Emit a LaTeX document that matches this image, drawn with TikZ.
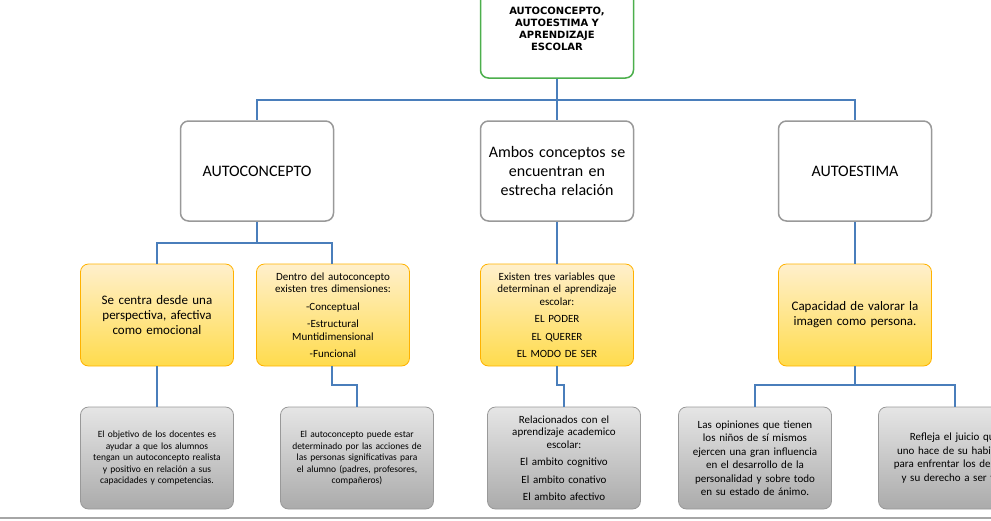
\documentclass[tikz,border=0pt]{standalone}
\usepackage{fontspec}
\setmainfont{Carlito}
\newfontfamily\titlef{DejaVu Sans}
\begin{document}
\begin{tikzpicture}[x=1pt,y=-1pt,
 white box/.style={draw=black!40,line width=1.5pt,rounded corners=8pt,fill=white,align=center,font=\fontsize{16}{19}\selectfont},
 orange box/.style={draw=orange!60!yellow,line width=0.8pt,rounded corners=8pt,top color=yellow!40!orange!20,bottom color=orange!40!yellow!70,align=center},
 gray box/.style={draw=black!40,line width=0.8pt,rounded corners=8pt,top color=black!10,bottom color=black!33,align=center,font=\fontsize{9.5}{11.5}\selectfont}]
\useasboundingbox (0,0) rectangle (991,520);
\clip (0,0) rectangle (991,520);
\definecolor{ln}{HTML}{4A7EBB}
\tikzset{line/.style={draw=ln,line width=1.6pt}}
% boxes
\node[white box,draw=green!55!black!70,minimum width=153pt,minimum height=96pt,font=\titlef\bfseries\fontsize{10}{12}\selectfont,text width=130pt] (top) at (557,30) {\\[-6pt]AUTOCONCEPTO,\\AUTOESTIMA Y\\APRENDIZAJE\\ESCOLAR\\[8pt]};
\node[white box,minimum width=153pt,minimum height=100pt] (ac) at (257,171) {AUTOCONCEPTO};
\node[white box,minimum width=153pt,minimum height=100pt,text width=140pt] (am) at (557,171) {Ambos conceptos se\\encuentran en\\estrecha relación};
\node[white box,minimum width=153pt,minimum height=100pt] (ae) at (855,171) {\raisebox{-7pt}{AUTOESTIMA}};
\node[orange box,minimum width=153pt,minimum height=102pt,font=\fontsize{13}{15}\selectfont,text width=140pt] (o1) at (157,315) {Se centra desde una\\perspectiva, afectiva\\como emocional};
\node[orange box,minimum width=153pt,minimum height=102pt,font=\fontsize{11}{12.5}\selectfont,text width=145pt] (o2) at (333,315) {Dentro del autoconcepto\\existen tres dimensiones:\\[5pt]-Conceptual\\[5pt]-Estructural\\Muntidimensional\\[5pt]-Funcional};
\node[orange box,minimum width=153pt,minimum height=102pt,font=\fontsize{11}{12.5}\selectfont,text width=145pt] (o3) at (557,315) {Existen tres variables que\\determinan el aprendizaje\\escolar:\\[5pt]EL PODER\\[5pt]EL QUERER\\[5pt]EL MODO DE SER};
\node[orange box,minimum width=153pt,minimum height=102pt,font=\fontsize{13}{15}\selectfont,text width=140pt] (o4) at (855,315) {\raisebox{7pt}{\parbox{140pt}{\centering Capacidad de valorar la\\imagen como persona.}}};
\node[gray box,minimum width=153pt,minimum height=102pt,text width=145pt] (g1) at (157,458) {El objetivo de los docentes es\\ayudar a que los alumnos\\tengan un autoconcepto realista\\y positivo en relación a sus\\capacidades y competencias.};
\node[gray box,minimum width=153pt,minimum height=102pt,text width=145pt] (g2) at (357,458) {El autoconcepto puede estar\\determinado por las acciones de\\las personas significativas para\\el alumno (padres, profesores,\\compañeros)\\[10pt]};
\node[gray box,minimum width=153pt,minimum height=102pt,text width=140pt,font=\fontsize{11}{12.5}\selectfont] (g3) at (564,458) {Relacionados con el\\aprendizaje academico\\escolar:\\[5pt]El ambito cognitivo\\[5pt]El ambito conativo\\[5pt]El ambito afectivo};
\node[gray box,minimum width=153pt,minimum height=102pt,text width=140pt,font=\fontsize{11}{13.5}\selectfont] (g4) at (755,458) {Las opiniones que tienen\\los niños de sí mismos\\ejercen una gran influencia\\en el desarrollo de la\\personalidad y sobre todo\\en su estado de ánimo.};
\node[gray box,minimum width=153pt,minimum height=102pt,text width=140pt,font=\fontsize{11}{13.5}\selectfont] (g5) at (955,458) {Refleja el juicio que\\uno hace de su habilidad\\para enfrentar los desafíos\\y su derecho a ser feliz};
% connectors
\draw[line] (top.south) -- (557,100) coordinate (h);
\draw[line] (h) -| (ac.north);
\draw[line] (h) -| (ae.north);
\draw[line] (h) -- (am.north);
\draw[line] (ac.south) -- (257,243) coordinate (a1);
\draw[line] (a1) -| (o1.north);
\draw[line] (a1) -| ([xshift=-1pt]o2.north);
\draw[line] (am.south) -- (o3.north);
\draw[line] (ae.south) -- (o4.north);
\draw[line] (o1.south) -- (g1.north);
\draw[line] ([xshift=-1pt]o2.south) |- (357,385) -- (g2.north);
\draw[line] (o3.south) |- (564,385) -- (g3.north);
\draw[line] (o4.south) -- (855,385) coordinate (a4);
\draw[line] (a4) -| (g4.north);
\draw[line] (a4) -| (g5.north);
\draw[black!35,line width=1.2pt] (0,518) -- (991,518);
\end{tikzpicture}
\end{document}
